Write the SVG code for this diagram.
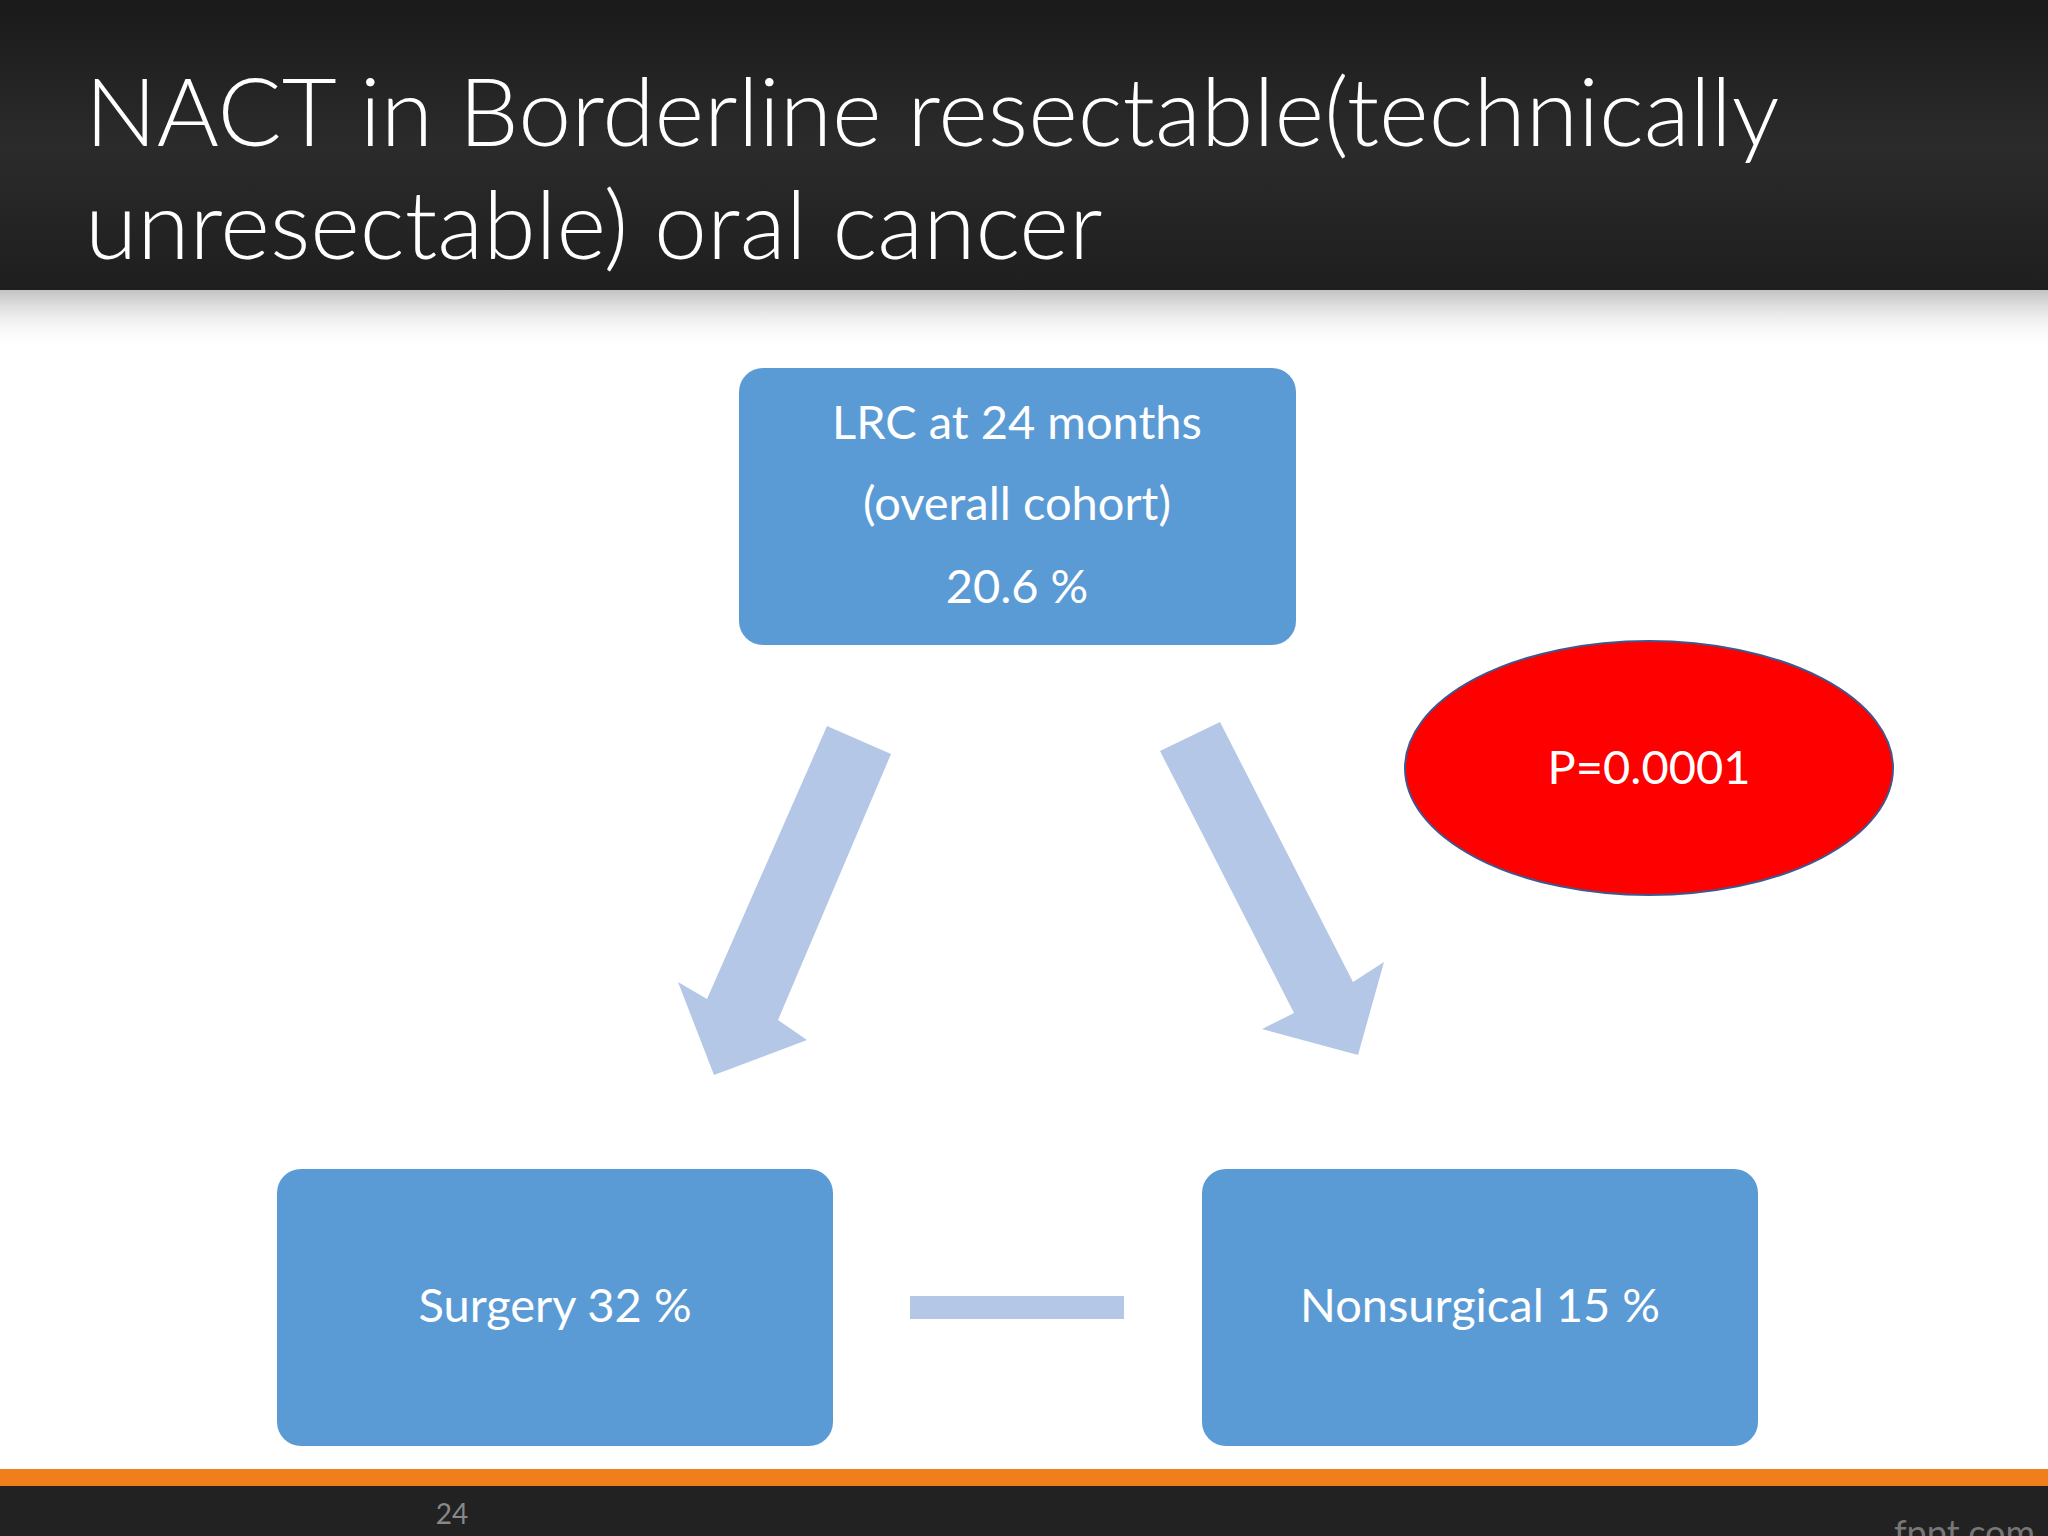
<svg xmlns="http://www.w3.org/2000/svg" width="2048" height="1536" viewBox="0 0 2048 1536">
<style>
.box{fill:#5b9bd5}
.arr{fill:#b4c7e7}
.t{font-family:Lato,"Open Sans",sans-serif;fill:#fff;font-size:47px;text-anchor:middle}
</style>
<defs>
<linearGradient id="hd" x1="0" y1="0" x2="0" y2="1"><stop offset="0" stop-color="#1a1a1a"/><stop offset="0.5" stop-color="#2b2b2b"/><stop offset="1" stop-color="#1e1e1e"/></linearGradient>
<linearGradient id="sh" x1="0" y1="0" x2="0" y2="1"><stop offset="0" stop-color="#999" stop-opacity="0.6"/><stop offset="1" stop-color="#fff" stop-opacity="0"/></linearGradient>
</defs>
<rect width="2048" height="1536" fill="#fff"/>
<rect x="0" y="0" width="2048" height="290" fill="url(#hd)"/>
<rect x="0" y="290" width="2048" height="60" fill="url(#sh)"/>
<text x="85" y="146" font-family="Lato,'Open Sans',sans-serif" font-size="95" font-weight="300" fill="#fff">NACT in Borderline resectable(technically</text>
<text x="85" y="259" font-family="Lato,'Open Sans',sans-serif" font-size="95" font-weight="300" fill="#fff">unresectable) oral cancer</text>
<g id="connectors">
<polygon class="arr" points="891,754 778,1020 807,1040 714,1075 678,982 707,999 827,726"/>
<polygon class="arr" points="1160,751 1220,722 1353,982 1384,962 1358,1055 1262,1029 1294,1013"/>
<rect class="arr" x="910" y="1296" width="214" height="23"/>
</g>
<g id="top"><rect class="box" x="739" y="368" width="557" height="277" rx="24"/>
<text class="t" x="1017" y="439">LRC at 24 months</text>
<text class="t" x="1017" y="520">(overall cohort)</text>
<text class="t" x="1017" y="603">20.6 %</text></g>
<g id="pval"><ellipse cx="1649" cy="768" rx="244" ry="127" fill="#ff0000" stroke="#41578c" stroke-width="2"/>
<text class="t" x="1649" y="784">P=0.0001</text></g>
<g id="surgery"><rect class="box" x="277" y="1169" width="556" height="277" rx="24"/>
<text class="t" x="555" y="1322">Surgery 32 %</text></g>
<g id="nonsurg"><rect class="box" x="1202" y="1169" width="556" height="277" rx="24"/>
<text class="t" x="1480" y="1322">Nonsurgical 15 %</text></g>
<rect x="0" y="1469" width="2048" height="17" fill="#f07e1b"/>
<rect x="0" y="1486" width="2048" height="50" fill="#222"/>
<text x="452" y="1524" font-family="Lato,sans-serif" font-size="28" fill="#888" text-anchor="middle">24</text>
<text x="1894" y="1546" font-family="Lato,sans-serif" font-size="36" fill="#777">fppt.com</text>
</svg>
